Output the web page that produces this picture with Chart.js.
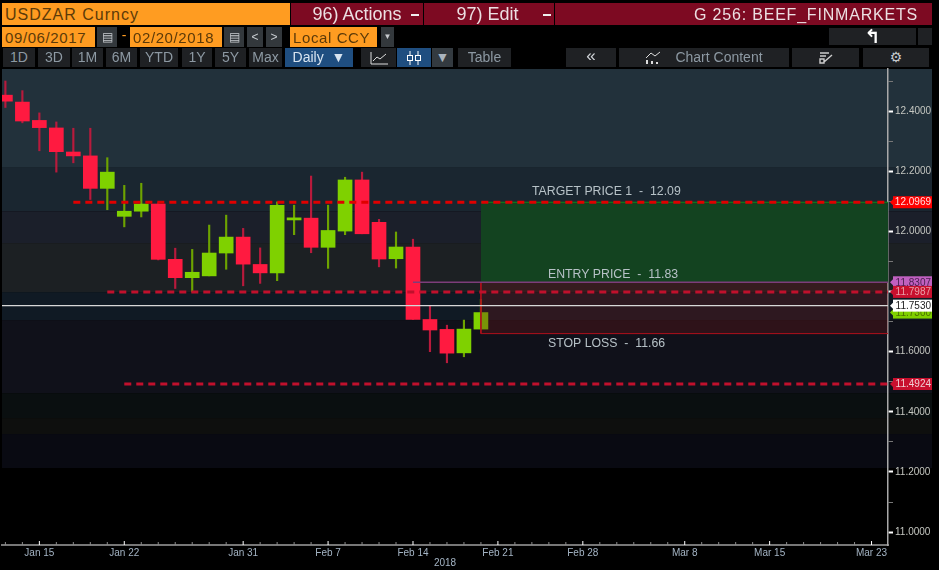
<!DOCTYPE html>
<html>
<head>
<meta charset="utf-8">
<title>USDZAR Curncy</title>
<script src="https://cdn.jsdelivr.net/npm/chart.js@4"></script>
<style>
html, body { margin: 0; padding: 0; background: #000; overflow: hidden; }
#wrap { position: relative; width: 939px; height: 570px; }
canvas { position: absolute; left: 0; top: 0; }
.b { position: absolute; box-sizing: border-box; font-family: "Liberation Sans", sans-serif; white-space: nowrap; text-align: center; }
.org { background: #ff9c21; color: #5c3a08; font-size: 15px; letter-spacing: .6px; text-align: left; padding-left: 3px; }
.red { background: #7d0a22; color: #ecdfe2; font-size: 18px; }
.btn { background: #1f2124; color: #8d99a3; font-size: 14px; line-height: 19px; height: 19px; top: 48px; }
.gr { background: #33383c; color: #c8ccd0; font-size: 12px; line-height: 20px; top: 27px; height: 20px; }
</style>
</head>
<body>
<div id="wrap">
  <canvas id="chart" width="939" height="570"></canvas>

  <div class="b org" style="left:2px;top:3px;width:288px;height:22px;line-height:23px;font-size:16px;letter-spacing:1px">USDZAR Curncy</div>
  <div class="b red" style="left:291px;top:3px;width:132px;height:22px;line-height:22px">96) Actions<span style="position:absolute;left:120px;top:11px;width:8px;height:2px;background:#eee"></span></div>
  <div class="b red" style="left:424px;top:3px;width:130px;height:22px;line-height:22px;padding-right:3px">97) Edit<span style="position:absolute;left:119px;top:11px;width:8px;height:2px;background:#eee"></span></div>
  <div class="b red" style="left:555px;top:3px;width:377px;height:22px;line-height:23px;font-size:16px;letter-spacing:.8px;text-align:right;padding-right:14px">G 256: BEEF_FINMARKETS</div>

  <div class="b org" style="left:2px;top:27px;width:93px;height:20px;line-height:21px">09/06/2017</div>
  <div class="b gr" style="left:97px;width:20px">&#9636;</div>
  <div class="b" style="left:120px;top:27px;width:8px;color:#ff9c21;font-size:14px">-</div>
  <div class="b org" style="left:130px;top:27px;width:92px;height:20px;line-height:21px">02/20/2018</div>
  <div class="b gr" style="left:224px;width:20px">&#9636;</div>
  <div class="b gr" style="left:247px;width:16px">&lt;</div>
  <div class="b gr" style="left:266px;width:16px">&gt;</div>
  <div class="b org" style="left:290px;top:27px;width:87px;height:20px;line-height:21px">Local CCY</div>
  <div class="b gr" style="left:381px;width:13px;font-size:8px">&#9660;</div>
  <div class="b" style="left:829px;top:28px;width:87px;height:17px;background:#1f2124;color:#fff;font-size:19px;line-height:16px;font-family:'DejaVu Sans';font-weight:bold">&#8624;</div>
  <div class="b" style="left:918px;top:28px;width:14px;height:17px;background:#1f2124"></div>

  <div class="b btn" style="left:3px;width:32px">1D</div>
  <div class="b btn" style="left:38px;width:32px">3D</div>
  <div class="b btn" style="left:72px;width:31px">1M</div>
  <div class="b btn" style="left:106px;width:31px">6M</div>
  <div class="b btn" style="left:140px;width:38px">YTD</div>
  <div class="b btn" style="left:182px;width:30px">1Y</div>
  <div class="b btn" style="left:215px;width:31px">5Y</div>
  <div class="b btn" style="left:249px;width:33px">Max</div>
  <div class="b btn" style="left:285px;width:68px;background:#1f4e80;color:#d8e4f0">Daily &nbsp;&#9660;</div>
  <div class="b btn" style="left:361px;width:35px"><svg width="20" height="14" style="margin-top:3px"><path d="M2 1V13H19M4 10L8 6L11 8L17 3" fill="none" stroke="#ddd"/></svg></div>
  <div class="b btn" style="left:397px;width:34px;background:#1f4e80"><svg width="20" height="14" style="margin-top:3px"><path d="M6 0V14M14 0V14" stroke="#fff"/><rect x="3.5" y="4.5" width="5" height="5" fill="#1f4e80" stroke="#fff"/><rect x="11.5" y="4.5" width="5" height="5" fill="#1f4e80" stroke="#fff"/></svg></div>
  <div class="b btn" style="left:432px;width:21px;background:#333a40;color:#aab4be">&#9660;</div>
  <div class="b btn" style="left:458px;width:53px">Table</div>
  <div class="b btn" style="left:566px;width:50px;color:#d0d4d8;font-size:17px;line-height:16px">&#171;</div>
  <div class="b btn" style="left:619px;width:170px;color:#8d99a3"><svg width="16" height="13" style="vertical-align:-2px;margin-right:14px"><path d="M1 7L6 2L10 5L15 1" fill="none" stroke="#ddd"/><path d="M2 9V13M7 10V13M12 11V13" stroke="#ddd" stroke-width="2"/></svg>Chart Content</div>
  <div class="b btn" style="left:792px;width:67px"><svg width="14" height="12" style="margin-top:4px"><path d="M1 1H10M1 4H7M1 7H5V11H1ZM5 10L13 3" fill="none" stroke="#ccc" stroke-width="1.4"/></svg></div>
  <div class="b btn" style="left:863px;width:66px;color:#c4c8cc;font-family:'DejaVu Sans'">&#9881;</div>
</div>

<script>
// weekdays shown on the x axis, the axis runs on weekday index
const dates = ['Jan 11','Jan 12','Jan 15','Jan 16','Jan 17','Jan 18','Jan 19','Jan 22','Jan 23','Jan 24','Jan 25','Jan 26','Jan 29','Jan 30','Jan 31',
  'Feb 1','Feb 2','Feb 5','Feb 6','Feb 7','Feb 8','Feb 9','Feb 12','Feb 13','Feb 14','Feb 15','Feb 16','Feb 19','Feb 20','Feb 21','Feb 22','Feb 23','Feb 26','Feb 27','Feb 28',
  'Mar 1','Mar 2','Mar 5','Mar 6','Mar 7','Mar 8','Mar 9','Mar 12','Mar 13','Mar 14','Mar 15','Mar 16','Mar 19','Mar 20','Mar 21','Mar 22','Mar 23'];
const xTickLabels = ['Jan 15','Jan 22','Jan 31','Feb 7','Feb 14','Feb 21','Feb 28','Mar 8','Mar 15','Mar 23'];

// candles
const opens  = [12.453,12.430,12.369,12.344,12.264,12.251,12.143,12.050,12.067,12.091,11.907,11.846,11.852,11.928,11.981,11.890,11.862,12.038,12.044,11.947,12.001,12.171,12.030,11.909,11.948,11.707,11.674,11.596,11.675];
const closes = [12.433,12.367,12.345,12.265,12.251,12.143,12.197,12.067,12.091,11.907,11.846,11.864,11.928,11.981,11.891,11.862,12.087,12.045,11.947,12.003,12.171,11.992,11.908,11.948,11.707,11.672,11.595,11.675,11.730];
const highs  = [12.500,12.468,12.394,12.364,12.343,12.343,12.245,12.153,12.160,12.095,11.944,11.940,12.021,12.054,12.010,11.945,12.098,12.087,12.184,12.087,12.180,12.197,12.040,11.998,11.974,11.752,11.688,11.705,11.774];
const lows   = [12.412,12.361,12.268,12.197,12.228,12.106,12.072,12.015,12.048,11.905,11.810,11.799,11.852,11.874,11.819,11.827,11.836,11.989,11.929,11.877,11.989,11.992,11.882,11.878,11.707,11.600,11.563,11.583,11.675];

// price levels
const targetPrice = 12.0969, targetText = 12.09;
const entryPrice = 11.8307, entryText = 11.83;
const stopPrice = 11.66;
const upperSupport = 11.7987, lowerSupport = 11.4924;
const lastPrice = 11.7530, lastClose = 11.7300;

// background bands, top edge then colour
const bandEdges  = [12.54,12.214,12.067,11.961,11.798,11.705,11.462,11.379,11.326,11.213,10.957];
const bandColors = ['#22313b','#1a2630','#1b1f2a','#1c2023','#101a24','#10111a','#0a0f10','#0e0f0e','#090a12','#000000'];

const xMin = -0.2, xMax = 51.97;
const yMin = 10.957, yMax = 12.54;
const upColor = '#7fd100', downColor = '#ff1a40';
const font = 'Liberation Sans';

const isUp = opens.map((o, i) => closes[i] > o);

function level(y, from) {
  return [{x: from, y: y}, {x: xMax, y: y}];
}

const bands = {
  id: 'bands',
  beforeDraw(c) {
    const y = c.scales.y, g = c.ctx;
    bandColors.forEach((col, i) => {
      const t = y.getPixelForValue(bandEdges[i]), b = y.getPixelForValue(bandEdges[i + 1]);
      g.fillStyle = col;
      g.fillRect(c.chartArea.left, t, 932 - c.chartArea.left, b - t);
    });
  }
};

const marks = {
  id: 'marks',
  afterDraw(c) {
    const g = c.ctx, x = c.scales.x, y = c.scales.y;
    // small ticks going up from the date axis
    x.ticks.forEach(t => {
      const px = x.getPixelForValue(t.value);
      const main = xTickLabels.includes(dates[t.value]);
      g.fillStyle = main ? '#ffffff' : '#8a8a8a';
      g.fillRect(px - 0.5, c.chartArea.bottom - (main ? 4 : 3), 1, main ? 4 : 3);
    });

    // texts on the trade boxes
    g.font = '12.3px "' + font + '"';
    g.fillStyle = '#b7c2c7';
    g.textBaseline = 'middle';
    g.textAlign = 'left';
    g.fillText('TARGET PRICE 1  -  ' + targetText.toFixed(2), 532, y.getPixelForValue(targetPrice) - 11);
    g.fillText('ENTRY PRICE  -  ' + entryText.toFixed(2), 548, y.getPixelForValue(entryPrice) - 8);
    g.fillText('STOP LOSS  -  ' + stopPrice.toFixed(2), 548, y.getPixelForValue(stopPrice) + 10);

    // value boxes on the price axis
    [[targetPrice, '#ff0000', '#ffe0e0'], [entryPrice, '#c060c0', '#4a2050'], [upperSupport, '#c8102e', '#e8a0a8'],
     [lastClose, '#80d000', '#4a7000'], [lastPrice, '#ffffff', '#202020'], [lowerSupport, '#c8102e', '#f0d0d4']].forEach(l => {
      const py = y.getPixelForValue(l[0]);
      g.fillStyle = l[1];
      g.fillRect(893, py - 6, 39, 12);
      g.beginPath();
      g.moveTo(893, py - 3); g.lineTo(890, py); g.lineTo(893, py + 3);
      g.fill();
      g.fillStyle = l[2];
      g.font = '10px "' + font + '"';
      g.textAlign = 'right';
      g.fillText(l[0].toFixed(4), 931, py + 0.5);
    });
  }
};

new Chart(document.getElementById('chart'), {
  type: 'bar',
  plugins: [bands, marks],
  data: {
    datasets: [
      // last price, support and purple entry lines sit on top
      {type: 'line', data: level(lastPrice, xMin), borderColor: '#d8d8d8', borderWidth: 1.2, pointRadius: 0, order: 1},
      {type: 'line', data: level(targetPrice, 4), borderColor: '#e00000', borderWidth: 3, borderDash: [7, 5], pointRadius: 0, order: 2},
      {type: 'line', data: level(upperSupport, 6), borderColor: '#c0102c', borderWidth: 3, borderDash: [7, 5], pointRadius: 0, order: 2},
      {type: 'line', data: level(lowerSupport, 7), borderColor: '#c0102c', borderWidth: 3, borderDash: [7, 5], pointRadius: 0, order: 2},
      {type: 'line', data: level(entryPrice, 24), borderColor: '#7d3d7a', borderWidth: 1.5, pointRadius: 0, order: 3},
      // trade boxes
      {type: 'line', data: [{x: 28, y: entryPrice}, {x: 28, y: stopPrice}, {x: xMax, y: stopPrice}], borderColor: '#b0101c', borderWidth: 1,
        pointRadius: 0, fill: {value: entryPrice}, backgroundColor: 'rgba(110,20,25,0.33)', order: 4},
      // candle bodies, then wicks
      {data: opens.map((o, i) => ({x: i, y: [o, closes[i]]})), backgroundColor: isUp.map(u => u ? upColor : downColor),
        barThickness: 14, grouped: false, order: 5},
      {data: opens.map((o, i) => ({x: i, y: [lows[i], highs[i]]})), backgroundColor: isUp.map(u => u ? '#6da300' : '#b81a3c'),
        barThickness: 1.5, grouped: false, order: 6},
      {type: 'line', data: level(targetPrice, 28), borderColor: '#0d8a1a', borderWidth: 1.2, pointRadius: 0,
        fill: {value: entryPrice}, backgroundColor: '#134320', order: 7}
    ]
  },
  options: {
    responsive: false,
    animation: false,
    devicePixelRatio: 1,
    layout: {padding: {left: 2, top: 69, right: 7, bottom: 0}},
    plugins: {legend: {display: false}, tooltip: {enabled: false}},
    scales: {
      x: {
        type: 'linear',
        offset: false,
        min: xMin,
        max: xMax,
        afterBuildTicks(s) { s.ticks = dates.map((d, i) => ({value: i})); },
        afterFit(s) { s.height = 25; },
        grid: {display: false, drawTicks: false, offset: false},
        border: {color: '#777777', width: 2},
        ticks: {
          autoSkip: false,
          maxRotation: 0,
          padding: 2,
          color: '#a4b4c4',
          font: {family: font, size: 10},
          callback: v => xTickLabels.includes(dates[v]) ? dates[v] : ''
        },
        title: {display: true, text: '2018', color: '#a4b4c4', font: {family: font, size: 10}, padding: {top: 0, bottom: 1}}
      },
      y: {
        position: 'right',
        min: yMin,
        max: yMax,
        afterFit(s) { s.width = 44; },
        grid: {
          drawOnChartArea: false,
          tickLength: 5,
          tickColor: c => Math.round(c.tick.value * 10) % 2 ? '#777777' : '#ffffff',
          tickWidth: c => Math.round(c.tick.value * 10) % 2 ? 1 : 2
        },
        border: {color: '#a9a9a9', width: 1.5},
        ticks: {
          stepSize: 0.1,
          includeBounds: false,
          autoSkip: false,
          padding: 2,
          color: '#c4c6c0',
          font: {family: font, size: 10},
          callback: v => Math.round(v * 10) % 2 ? '' : v.toFixed(4)
        }
      }
    }
  }
});
</script>
</body>
</html>
